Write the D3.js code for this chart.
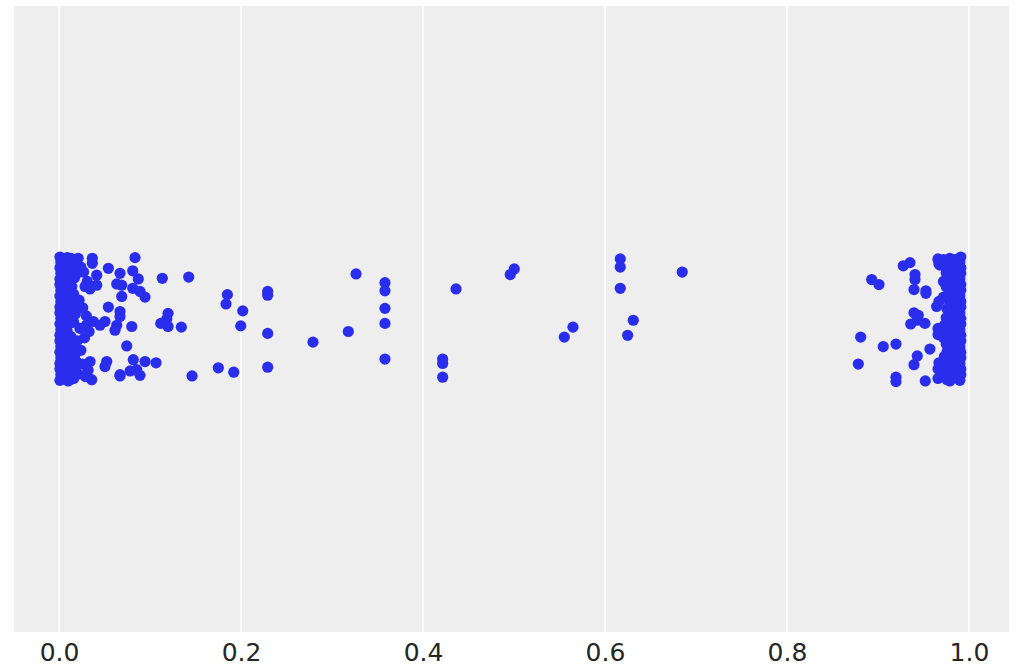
<!DOCTYPE html>
<html>
<head>
<meta charset="utf-8">
<script src="https://cdn.jsdelivr.net/npm/d3@7"></script>
<style>
  html, body { margin: 0; padding: 0; background: #ffffff; }
  svg { display: block; }
</style>
</head>
<body>
<div id="chart"></div>
<script>
"use strict";

/* ── Data: x value and jitter (category units) ── */

// dense pile right at zero
const zeroValues = [
  0.001, 0.002, 0.001, 0.002, 0.001, 0.001, 0.002, 0.001, 0.002, 0.001, 0.001, 0.002,
  0.001, 0.002, 0.001, 0.001, 0.002, 0.001, 0.002, 0.001, 0.001, 0.002, 0.001,
  0.005, 0.006, 0.005, 0.005, 0.006, 0.005, 0.005, 0.006, 0.005, 0.005, 0.006,
  0.005, 0.005, 0.006, 0.005, 0.005, 0.006, 0.005, 0.005, 0.006, 0.005, 0.005,
  0.009, 0.010, 0.009, 0.009, 0.010, 0.009, 0.009, 0.010, 0.009, 0.009, 0.010,
  0.009, 0.009, 0.010, 0.009, 0.009, 0.010, 0.009, 0.009, 0.010,
  0.013, 0.014, 0.013, 0.013, 0.014, 0.013, 0.013, 0.014, 0.013, 0.013, 0.014,
  0.013, 0.013, 0.014, 0.013, 0.013, 0.014,
  0.017, 0.018, 0.017, 0.017, 0.018, 0.017, 0.017, 0.018
];
const zeroJitter = [
  0.099, 0.091, 0.082, 0.073, 0.064, 0.055, 0.046, 0.037, 0.028, 0.019, 0.010, 0.001,
  -0.008, -0.017, -0.026, -0.035, -0.044, -0.053, -0.062, -0.071, -0.080, -0.089, -0.098,
  0.095, 0.086, 0.077, 0.068, 0.059, 0.050, 0.041, 0.032, 0.023, 0.014, 0.005,
  -0.004, -0.013, -0.022, -0.031, -0.040, -0.049, -0.058, -0.067, -0.076, -0.085, -0.094,
  0.098, 0.089, 0.080, 0.070, 0.061, 0.043, 0.034, 0.025, 0.016, 0.007, -0.002,
  -0.011, -0.020, -0.038, -0.047, -0.056, -0.074, -0.083, -0.092, -0.099,
  0.097, 0.088, 0.079, 0.070, 0.052, 0.043, 0.025, 0.016, 0.003, -0.006, -0.033,
  -0.042, -0.051, -0.069, -0.078, -0.087, -0.096,
  0.094, 0.085, 0.066, 0.030, 0.021, -0.047, -0.060, -0.084
];

// ragged edge and scatter of the low group
const lowValues = [
  0.014, 0.018, 0.021, 0.015, 0.024, 0.013, 0.019, 0.027, 0.012, 0.016, 0.022, 0.014,
  0.026, 0.018, 0.012, 0.030, 0.016, 0.023, 0.013, 0.020, 0.028, 0.015, 0.024, 0.012,
  0.019, 0.026, 0.014, 0.021, 0.016, 0.029, 0.032, 0.031, 0.034, 0.030, 0.033,
  0.0366, 0.0366, 0.0835, 0.0542, 0.067, 0.081, 0.0871, 0.0414, 0.0634, 0.0689, 0.081,
  0.089, 0.0945, 0.0689, 0.0414, 0.0286, 0.0542, 0.067, 0.067, 0.0799, 0.0634, 0.0615,
  0.0505, 0.045, 0.0377, 0.0744, 0.0524, 0.0505, 0.067, 0.0816, 0.0854, 0.067, 0.0781,
  0.089, 0.0359, 0.0341, 0.0945, 0.1066
];
const lowJitter = [
  0.095, 0.090, 0.097, 0.080, 0.083, 0.068, 0.072, 0.075, 0.055, 0.040, 0.030, 0.025,
  0.018, 0.008, 0.012, 0.005, -0.005, -0.015, -0.028, -0.035, -0.030, -0.045, -0.050, -0.060,
  -0.068, -0.072, -0.080, -0.088, -0.095, -0.092, -0.082, 0.060, 0.048, -0.010, -0.020,
  0.097, 0.089, 0.098, 0.081, 0.073, 0.077, 0.064, 0.070, 0.056, 0.054, 0.049,
  0.044, 0.035, 0.036, 0.054, 0.052, 0.019, 0.012, 0.004, -0.012, -0.010, -0.018,
  -0.004, -0.010, -0.004, -0.043, -0.068, -0.076, -0.091, -0.065, -0.081, -0.089, -0.083,
  -0.090, -0.097, -0.068, -0.068, -0.070
];

// sparse middle of the range
const midValues = [
  0.1135, 0.1425, 0.185, 0.1835, 0.2019, 0.1997, 0.1198, 0.1184, 0.1118, 0.1198, 0.1344,
  0.1462, 0.1751, 0.192, 0.2293, 0.2293, 0.2293, 0.2293, 0.2791, 0.3179, 0.3264,
  0.3582, 0.3582, 0.3582, 0.3582, 0.3582, 0.4363, 0.4216, 0.4216, 0.4216,
  0.5003, 0.4959, 0.5648, 0.5553, 0.6168, 0.6168, 0.6168, 0.6311, 0.6249, 0.6849
];
const midJitter = [
  0.065, 0.067, 0.039, 0.024, 0.013, -0.011, 0.009, 0.000, -0.007, -0.012, -0.013,
  -0.091, -0.078, -0.085, 0.044, 0.038, -0.023, -0.077, -0.037, -0.020, 0.072,
  0.058, 0.045, 0.017, -0.007, -0.064, 0.048, -0.064, -0.071, -0.093,
  0.080, 0.071, -0.013, -0.029, 0.096, 0.083, 0.049, -0.002, -0.026, 0.075
];

// scatter of the high group
const highValues = [
  0.8931, 0.9011, 0.9278, 0.9352, 0.9407, 0.9407, 0.9396, 0.9527, 0.9527, 0.967, 0.9645,
  0.9396, 0.9443, 0.936, 0.9516, 0.9432, 0.881, 0.9058, 0.9198, 0.8784, 0.9198, 0.9198,
  0.9432, 0.9396, 0.952, 0.9571, 0.9662, 0.9681
];
const highJitter = [
  0.063, 0.055, 0.085, 0.090, 0.071, 0.063, 0.047, 0.045, 0.041, 0.028, 0.020,
  0.010, 0.006, -0.008, -0.007, -0.002, -0.029, -0.044, -0.040, -0.072, -0.093, -0.100,
  -0.059, -0.073, -0.099, -0.048, 0.094, 0.086
];

// dense pile just below one
const oneValues = [
  0.991, 0.990, 0.991, 0.991, 0.990, 0.991, 0.991, 0.990, 0.991, 0.991, 0.990, 0.991,
  0.991, 0.990, 0.991, 0.991, 0.990, 0.991, 0.991, 0.990, 0.991, 0.991, 0.990,
  0.985, 0.984, 0.985, 0.985, 0.984, 0.985, 0.985, 0.984, 0.985, 0.985, 0.984,
  0.985, 0.985, 0.984, 0.985, 0.985, 0.984, 0.985, 0.985, 0.984, 0.985, 0.985,
  0.979, 0.978, 0.979, 0.979, 0.978, 0.979, 0.979, 0.978, 0.979, 0.979, 0.978,
  0.979, 0.979, 0.978, 0.979, 0.979, 0.978, 0.979,
  0.975, 0.976, 0.975, 0.975, 0.976, 0.975, 0.975, 0.976, 0.975, 0.975, 0.976,
  0.972, 0.973, 0.972, 0.972, 0.973, 0.972, 0.972, 0.973, 0.972, 0.972,
  0.966, 0.967, 0.966, 0.966, 0.967, 0.966, 0.966
];
const oneJitter = [
  0.099, 0.091, 0.082, 0.073, 0.064, 0.055, 0.046, 0.037, 0.028, 0.019, 0.010, 0.001,
  -0.008, -0.017, -0.026, -0.035, -0.044, -0.053, -0.062, -0.071, -0.080, -0.089, -0.098,
  0.095, 0.086, 0.077, 0.068, 0.059, 0.050, 0.041, 0.032, 0.023, 0.014, 0.005,
  -0.004, -0.013, -0.022, -0.031, -0.040, -0.049, -0.058, -0.067, -0.076, -0.085, -0.094,
  0.097, 0.088, 0.079, 0.061, 0.043, 0.025, 0.007, -0.002, -0.011, -0.020, -0.029,
  -0.047, -0.056, -0.065, -0.074, -0.083, -0.092, -0.099,
  0.092, 0.083, 0.074, 0.052, 0.016, 0.002, -0.040, -0.052, -0.066, -0.084, -0.097,
  0.095, 0.085, 0.060, 0.035, -0.010, -0.020, -0.030, -0.060, -0.075, -0.090,
  0.096, 0.088, -0.015, -0.025, -0.070, -0.080, -0.095
];

const xTicks = [0.0, 0.2, 0.4, 0.6, 0.8, 1.0];

/* ── Points ── */
const zip = (vals, jit) => vals.map((v, i) => ({ value: v, jitter: jit[i] }));
const points = [].concat(
  zip(zeroValues, zeroJitter),
  zip(lowValues, lowJitter),
  zip(midValues, midJitter),
  zip(highValues, highJitter),
  zip(oneValues, oneJitter)
);

/* ── Dimensions ── */
const totalW = 1024, totalH = 671;
const plot = { left: 14, right: 1009, top: 6, bottom: 632 };

const svg = d3.select("#chart")
  .append("svg")
  .attr("width", totalW)
  .attr("height", totalH);

/* ── Scales ── */
const x = d3.scaleLinear()
  .domain([-0.0495, 1.044])
  .range([plot.left, plot.right]);

const y = d3.scaleLinear()
  .domain([-0.5, 0.5])
  .range([plot.bottom, plot.top]);

/* ── Background ── */
svg.append("rect")
  .attr("x", plot.left).attr("y", plot.top)
  .attr("width", plot.right - plot.left)
  .attr("height", plot.bottom - plot.top)
  .attr("fill", "#eeeeee");

/* ── Grid ── */
svg.append("g")
  .selectAll("line")
  .data(xTicks)
  .join("line")
  .attr("x1", d => x(d)).attr("x2", d => x(d))
  .attr("y1", plot.top).attr("y2", plot.bottom)
  .attr("stroke", "#ffffff")
  .attr("stroke-width", 1.6);

/* ── X axis ── */
svg.append("g")
  .attr("transform", `translate(0,${plot.bottom})`)
  .call(d3.axisBottom(x).tickValues(xTicks).tickFormat(d3.format(".1f")).tickSize(0).tickPadding(0))
  .call(g => {
    g.select(".domain").remove();
    g.selectAll(".tick text")
      .attr("y", 29)
      .attr("dy", 0)
      .attr("fill", "#262626")
      .attr("font-family", "DejaVu Sans, sans-serif")
      .attr("font-size", "25px");
  });

/* ── Strip ── */
svg.append("g")
  .selectAll("circle")
  .data(points)
  .join("circle")
  .attr("cx", d => x(d.value))
  .attr("cy", d => y(d.jitter))
  .attr("r", 5.6)
  .attr("fill", "#2a2eec");
</script>
</body>
</html>
